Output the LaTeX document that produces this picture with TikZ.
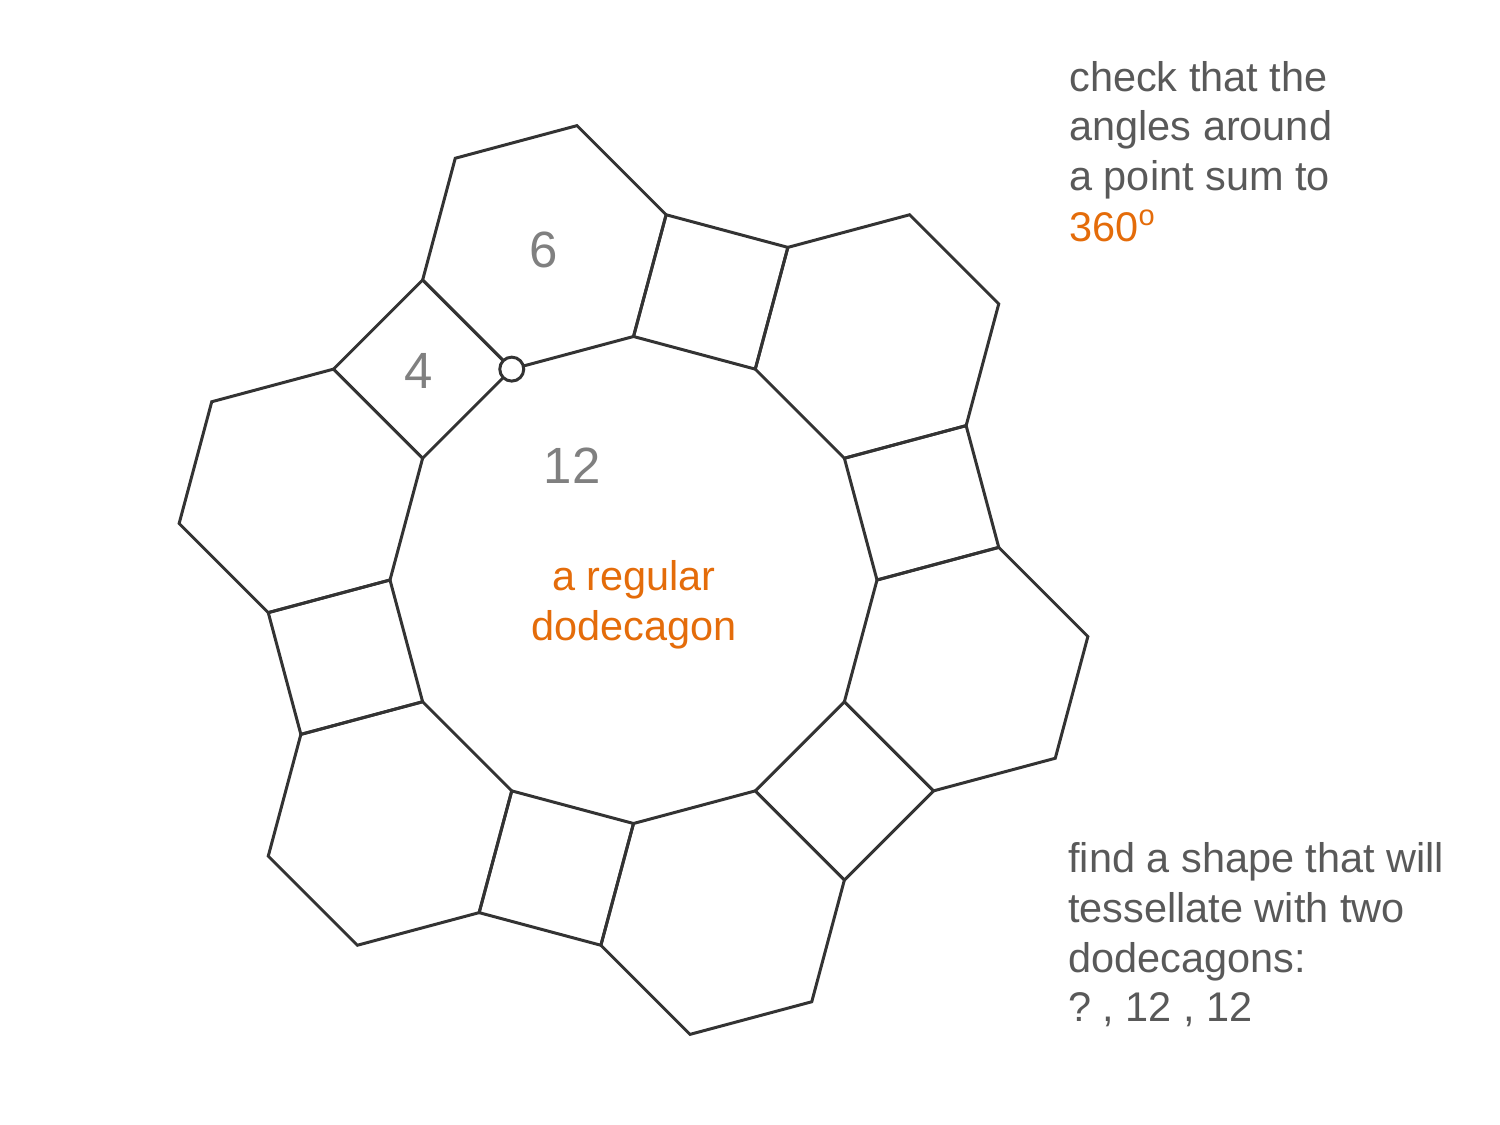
\documentclass[tikz,border=0pt]{standalone}
\usepackage{fontspec}
\setmainfont{Liberation Sans}
\usetikzlibrary{calc}
\definecolor{edgec}{HTML}{333333}
\definecolor{txtc}{HTML}{595959}
\definecolor{numc}{HTML}{808080}
\definecolor{orngc}{HTML}{E46C0A}
\begin{document}
\begin{tikzpicture}[x=0.02cm,y=0.02cm,
  tile/.style={draw=edgec,line width=1.7pt},
  numlabel/.style={text=numc,font=\fontsize{29}{35}\selectfont,anchor=base,inner sep=0pt},
  body/.style={text=txtc,font=\fontsize{23.6}{28}\selectfont,anchor=base west,inner sep=0pt},
  hilite/.style={text=orngc,font=\fontsize{23.6}{28}\selectfont,inner sep=0pt}]
\useasboundingbox (0,0) rectangle (1500,-1125);
\coordinate (C) at (633.5,-580);
\foreach \k in {0,...,11}{\coordinate (v\k) at ($(C)+(30*\k:243.5)$);}
% squares on even edges
\foreach \k in {0,2,...,10}{
  \pgfmathsetmacro\t{30*\k+105}
  \draw[tile] (v\k) -- ++(\t:126.04) -- ++(\t-90:126.04) -- ++(\t-180:126.04) -- cycle;
}
% hexagons on odd edges
\foreach \k in {1,3,...,11}{
  \pgfmathsetmacro\t{30*\k+105}
  \draw[tile] (v\k) -- ++(\t:126.04) -- ++(\t-60:126.04) -- ++(\t-120:126.04)
     -- ++(\t-180:126.04) -- ++(\t-240:126.04) -- cycle;
}
\node[circle,draw=edgec,fill=white,line width=1.7pt,minimum size=0.48cm,inner sep=0pt] (pt) at (v4) {};
\node[numlabel] (six) at (544,-267) {6};
\node[numlabel] (four) at (419,-388) {4};
\node[numlabel] (twelve) at (572,-483) {12};
\node[hilite,anchor=base] (reg1) at (634,-590) {a regular};
\node[hilite,anchor=base] (reg2) at (634,-640) {dodecagon};
\node[body] (c1) at (1069,-91.5) {check that the};
\node[body] (c2) at (1069,-141) {angles around};
\node[body] (c3) at (1069,-191) {a point sum to};
\node[hilite,anchor=base west] (c4) at (1069,-241) {360\textsuperscript{o}};
\node[body] (f1) at (1068,-872) {find a shape that will};
\node[body] (f2) at (1068,-922) {tessellate with two};
\node[body] (f3) at (1068,-972) {dodecagons:};
\node[body] (f4) at (1068,-1021) {?\hspace{-0.1em} , 12 , 12};
\end{tikzpicture}
\end{document}
